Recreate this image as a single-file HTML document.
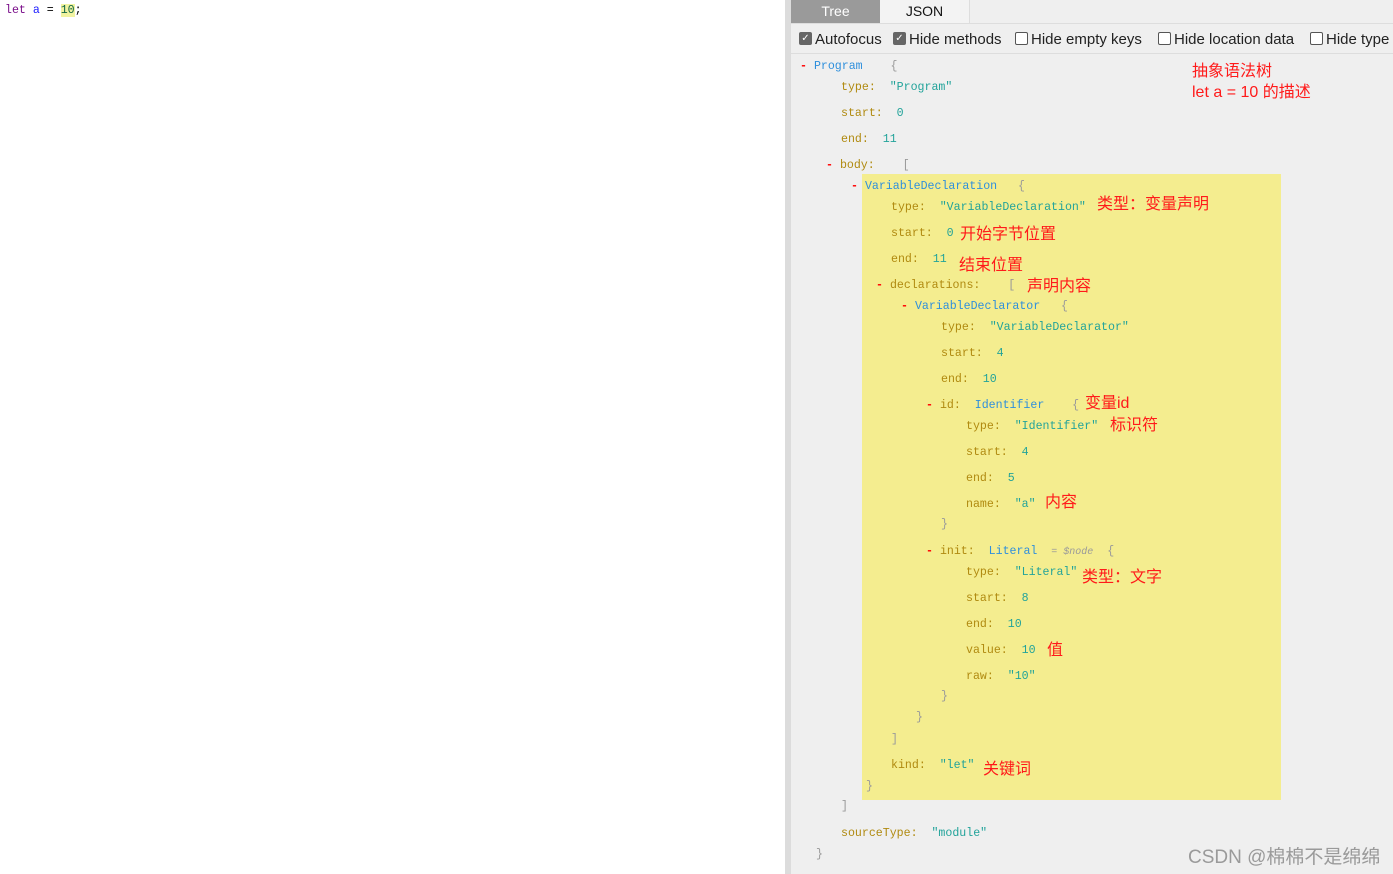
<!DOCTYPE html>
<html><head><meta charset="utf-8"><style>
*{margin:0;padding:0;box-sizing:border-box}
body{width:1393px;height:874px;overflow:hidden;background:#fff;position:relative;font-family:"Liberation Mono","Noto Sans CJK SC",monospace}
.a{position:absolute;white-space:pre;font-size:11.6px;line-height:16px}
.k{color:#b08a10}.t{color:#2e8fdc}.v{color:#22a39a}.b{color:#9a9a9a}.m{color:#f00;font-weight:bold}
.r{position:absolute;white-space:pre;color:#ff1a1a;font-family:"Liberation Sans","Noto Sans CJK SC",sans-serif;font-size:16px;line-height:20px}
.ui{position:absolute;font-family:"Liberation Sans",sans-serif;font-size:15px;color:#222;white-space:pre;line-height:18px;top:31px}
.cb{position:absolute;top:32px;width:13px;height:13px;border:1px solid #555;border-radius:2px;background:#fff;font-size:10px;line-height:11px;text-align:center;color:#fff;font-family:"DejaVu Sans",sans-serif}
.cb.on{background:#666;border-color:#666}
</style></head><body>
<div class="a" style="left:5px;top:3px"><span style="color:#7a0d8a">let</span> <span style="color:#1a1aff">a</span> = <span style="background:#f1f3a0;color:#116644">10</span>;</div>
<div style="position:absolute;left:785px;top:0;width:6px;height:874px;background:#dcdcdc"></div>
<div style="position:absolute;left:791px;top:0;width:602px;height:874px;background:#efefef"></div>
<div style="position:absolute;left:791px;top:0;width:89px;height:23px;background:#9a9a9a;color:#fff;font-family:'Liberation Sans',sans-serif;font-size:14px;text-align:center;line-height:23px">Tree</div>
<div style="position:absolute;left:880px;top:0;width:90px;height:23px;background:#f3f3f3;color:#111;font-family:'Liberation Sans',sans-serif;font-size:14px;text-align:center;line-height:23px;border-right:1px solid #ddd">JSON</div>
<div style="position:absolute;left:791px;top:23px;width:602px;height:1px;background:#ddd"></div>
<div style="position:absolute;left:791px;top:53px;width:602px;height:1px;background:#ddd"></div>
<div class="cb on" style="left:799px">✓</div><div class="ui" style="left:815px">Autofocus</div>
<div class="cb on" style="left:893px">✓</div><div class="ui" style="left:909px">Hide methods</div>
<div class="cb" style="left:1015px"></div><div class="ui" style="left:1031px">Hide empty keys</div>
<div class="cb" style="left:1158px"></div><div class="ui" style="left:1174px">Hide location data</div>
<div class="cb" style="left:1310px"></div><div class="ui" style="left:1326px">Hide type</div>
<div style="position:absolute;left:862px;top:174px;width:419px;height:626px;background:#f4ed8f"></div>

<div class="a" style="left:800px;top:59px"><span class="m">-</span> <span class="t">Program</span>    <span class="b">{</span></div>
<div class="a" style="left:841px;top:80px"><span class="k">type:</span>  <span class="v">"Program"</span></div>
<div class="a" style="left:841px;top:106px"><span class="k">start:</span>  <span class="v">0</span></div>
<div class="a" style="left:841px;top:132px"><span class="k">end:</span>  <span class="v">11</span></div>
<div class="a" style="left:826px;top:158px"><span class="m">-</span> <span class="k">body:</span>    <span class="b">[</span></div>
<div class="a" style="left:851px;top:179px"><span class="m">-</span> <span class="t">VariableDeclaration</span>   <span class="b">{</span></div>
<div class="a" style="left:891px;top:200px"><span class="k">type:</span>  <span class="v">"VariableDeclaration"</span></div>
<div class="a" style="left:891px;top:226px"><span class="k">start:</span>  <span class="v">0</span></div>
<div class="a" style="left:891px;top:252px"><span class="k">end:</span>  <span class="v">11</span></div>
<div class="a" style="left:876px;top:278px"><span class="m">-</span> <span class="k">declarations:</span>    <span class="b">[</span></div>
<div class="a" style="left:901px;top:299px"><span class="m">-</span> <span class="t">VariableDeclarator</span>   <span class="b">{</span></div>
<div class="a" style="left:941px;top:320px"><span class="k">type:</span>  <span class="v">"VariableDeclarator"</span></div>
<div class="a" style="left:941px;top:346px"><span class="k">start:</span>  <span class="v">4</span></div>
<div class="a" style="left:941px;top:372px"><span class="k">end:</span>  <span class="v">10</span></div>
<div class="a" style="left:926px;top:398px"><span class="m">-</span> <span class="k">id:</span>  <span class="t">Identifier</span>    <span class="b">{</span></div>
<div class="a" style="left:966px;top:419px"><span class="k">type:</span>  <span class="v">"Identifier"</span></div>
<div class="a" style="left:966px;top:445px"><span class="k">start:</span>  <span class="v">4</span></div>
<div class="a" style="left:966px;top:471px"><span class="k">end:</span>  <span class="v">5</span></div>
<div class="a" style="left:966px;top:497px"><span class="k">name:</span>  <span class="v">"a"</span></div>
<div class="a" style="left:941px;top:517px"><span class="b">}</span></div>
<div class="a" style="left:926px;top:544px"><span class="m">-</span> <span class="k">init:</span>  <span class="t">Literal</span>  <span class="b" style="font-style:italic;font-size:10px">= $node</span>  <span class="b">{</span></div>
<div class="a" style="left:966px;top:565px"><span class="k">type:</span>  <span class="v">"Literal"</span></div>
<div class="a" style="left:966px;top:591px"><span class="k">start:</span>  <span class="v">8</span></div>
<div class="a" style="left:966px;top:617px"><span class="k">end:</span>  <span class="v">10</span></div>
<div class="a" style="left:966px;top:643px"><span class="k">value:</span>  <span class="v">10</span></div>
<div class="a" style="left:966px;top:669px"><span class="k">raw:</span>  <span class="v">"10"</span></div>
<div class="a" style="left:941px;top:689px"><span class="b">}</span></div>
<div class="a" style="left:916px;top:710px"><span class="b">}</span></div>
<div class="a" style="left:891px;top:732px"><span class="b">]</span></div>
<div class="a" style="left:891px;top:758px"><span class="k">kind:</span>  <span class="v">"let"</span></div>
<div class="a" style="left:866px;top:779px"><span class="b">}</span></div>
<div class="a" style="left:841px;top:799px"><span class="b">]</span></div>
<div class="a" style="left:841px;top:826px"><span class="k">sourceType:</span>  <span class="v">"module"</span></div>
<div class="a" style="left:816px;top:847px"><span class="b">}</span></div>

<div class="r" style="left:1192px;top:62px">抽象语法树</div>
<div class="r" style="left:1192px;top:83px">let a = 10 的描述</div>
<div class="r" style="left:1097px;top:195px">类型：变量声明</div>
<div class="r" style="left:960px;top:225px">开始字节位置</div>
<div class="r" style="left:959px;top:256px">结束位置</div>
<div class="r" style="left:1027px;top:277px">声明内容</div>
<div class="r" style="left:1085px;top:394px">变量id</div>
<div class="r" style="left:1110px;top:416px">标识符</div>
<div class="r" style="left:1045px;top:493px">内容</div>
<div class="r" style="left:1082px;top:568px">类型：文字</div>
<div class="r" style="left:1047px;top:641px">值</div>
<div class="r" style="left:983px;top:760px">关键词</div>
<div style="position:absolute;left:1188px;top:842px;font-family:'Liberation Sans','Noto Sans CJK SC',sans-serif;font-size:19px;color:#9a9a9a;white-space:pre">CSDN @棉棉不是绵绵</div>
</body></html>
